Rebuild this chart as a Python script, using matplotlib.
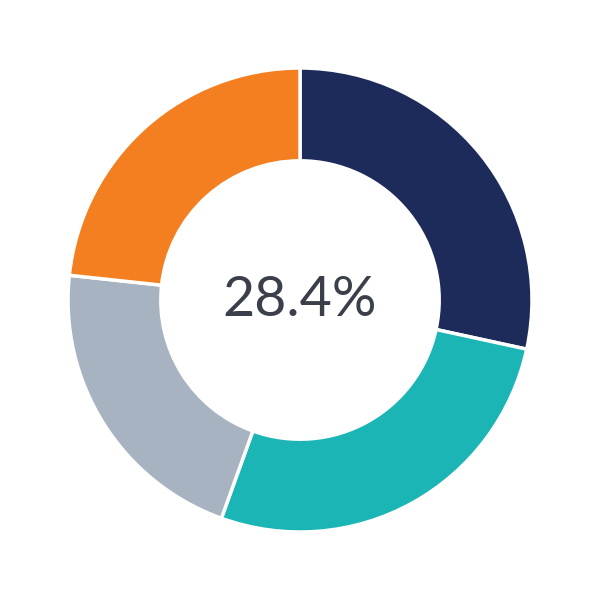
import matplotlib
matplotlib.use("Agg")
import matplotlib.pyplot as plt

# valores das fatias (em %), sentido horario a partir do topo
labels = ["A", "B", "C", "D"]
values = [28.4, 27.1, 21.2, 23.3]
colors = ["#1c2b5a", "#1cb5b5", "#a8b3c2", "#f37f20"]
center_text = "28.4%"

fig = plt.figure(figsize=(6, 6), dpi=100)
ax = fig.add_axes([0, 0, 1, 1])

ax.pie(values, colors=colors, startangle=90, counterclock=False,
       radius=1.0,
       wedgeprops=dict(width=0.4, edgecolor="white", linewidth=2.5))

ax.text(0, 0, center_text, ha="center", va="center", fontsize=40,
        color="#3a3f4a", family=["Lato", "DejaVu Sans"], fontweight="normal")

lim = 300 / 232
ax.set_xlim(-lim, lim)
ax.set_ylim(-lim, lim)
ax.set_aspect("equal")
ax.axis("off")

fig.savefig("out.png", dpi=100, facecolor="white")
